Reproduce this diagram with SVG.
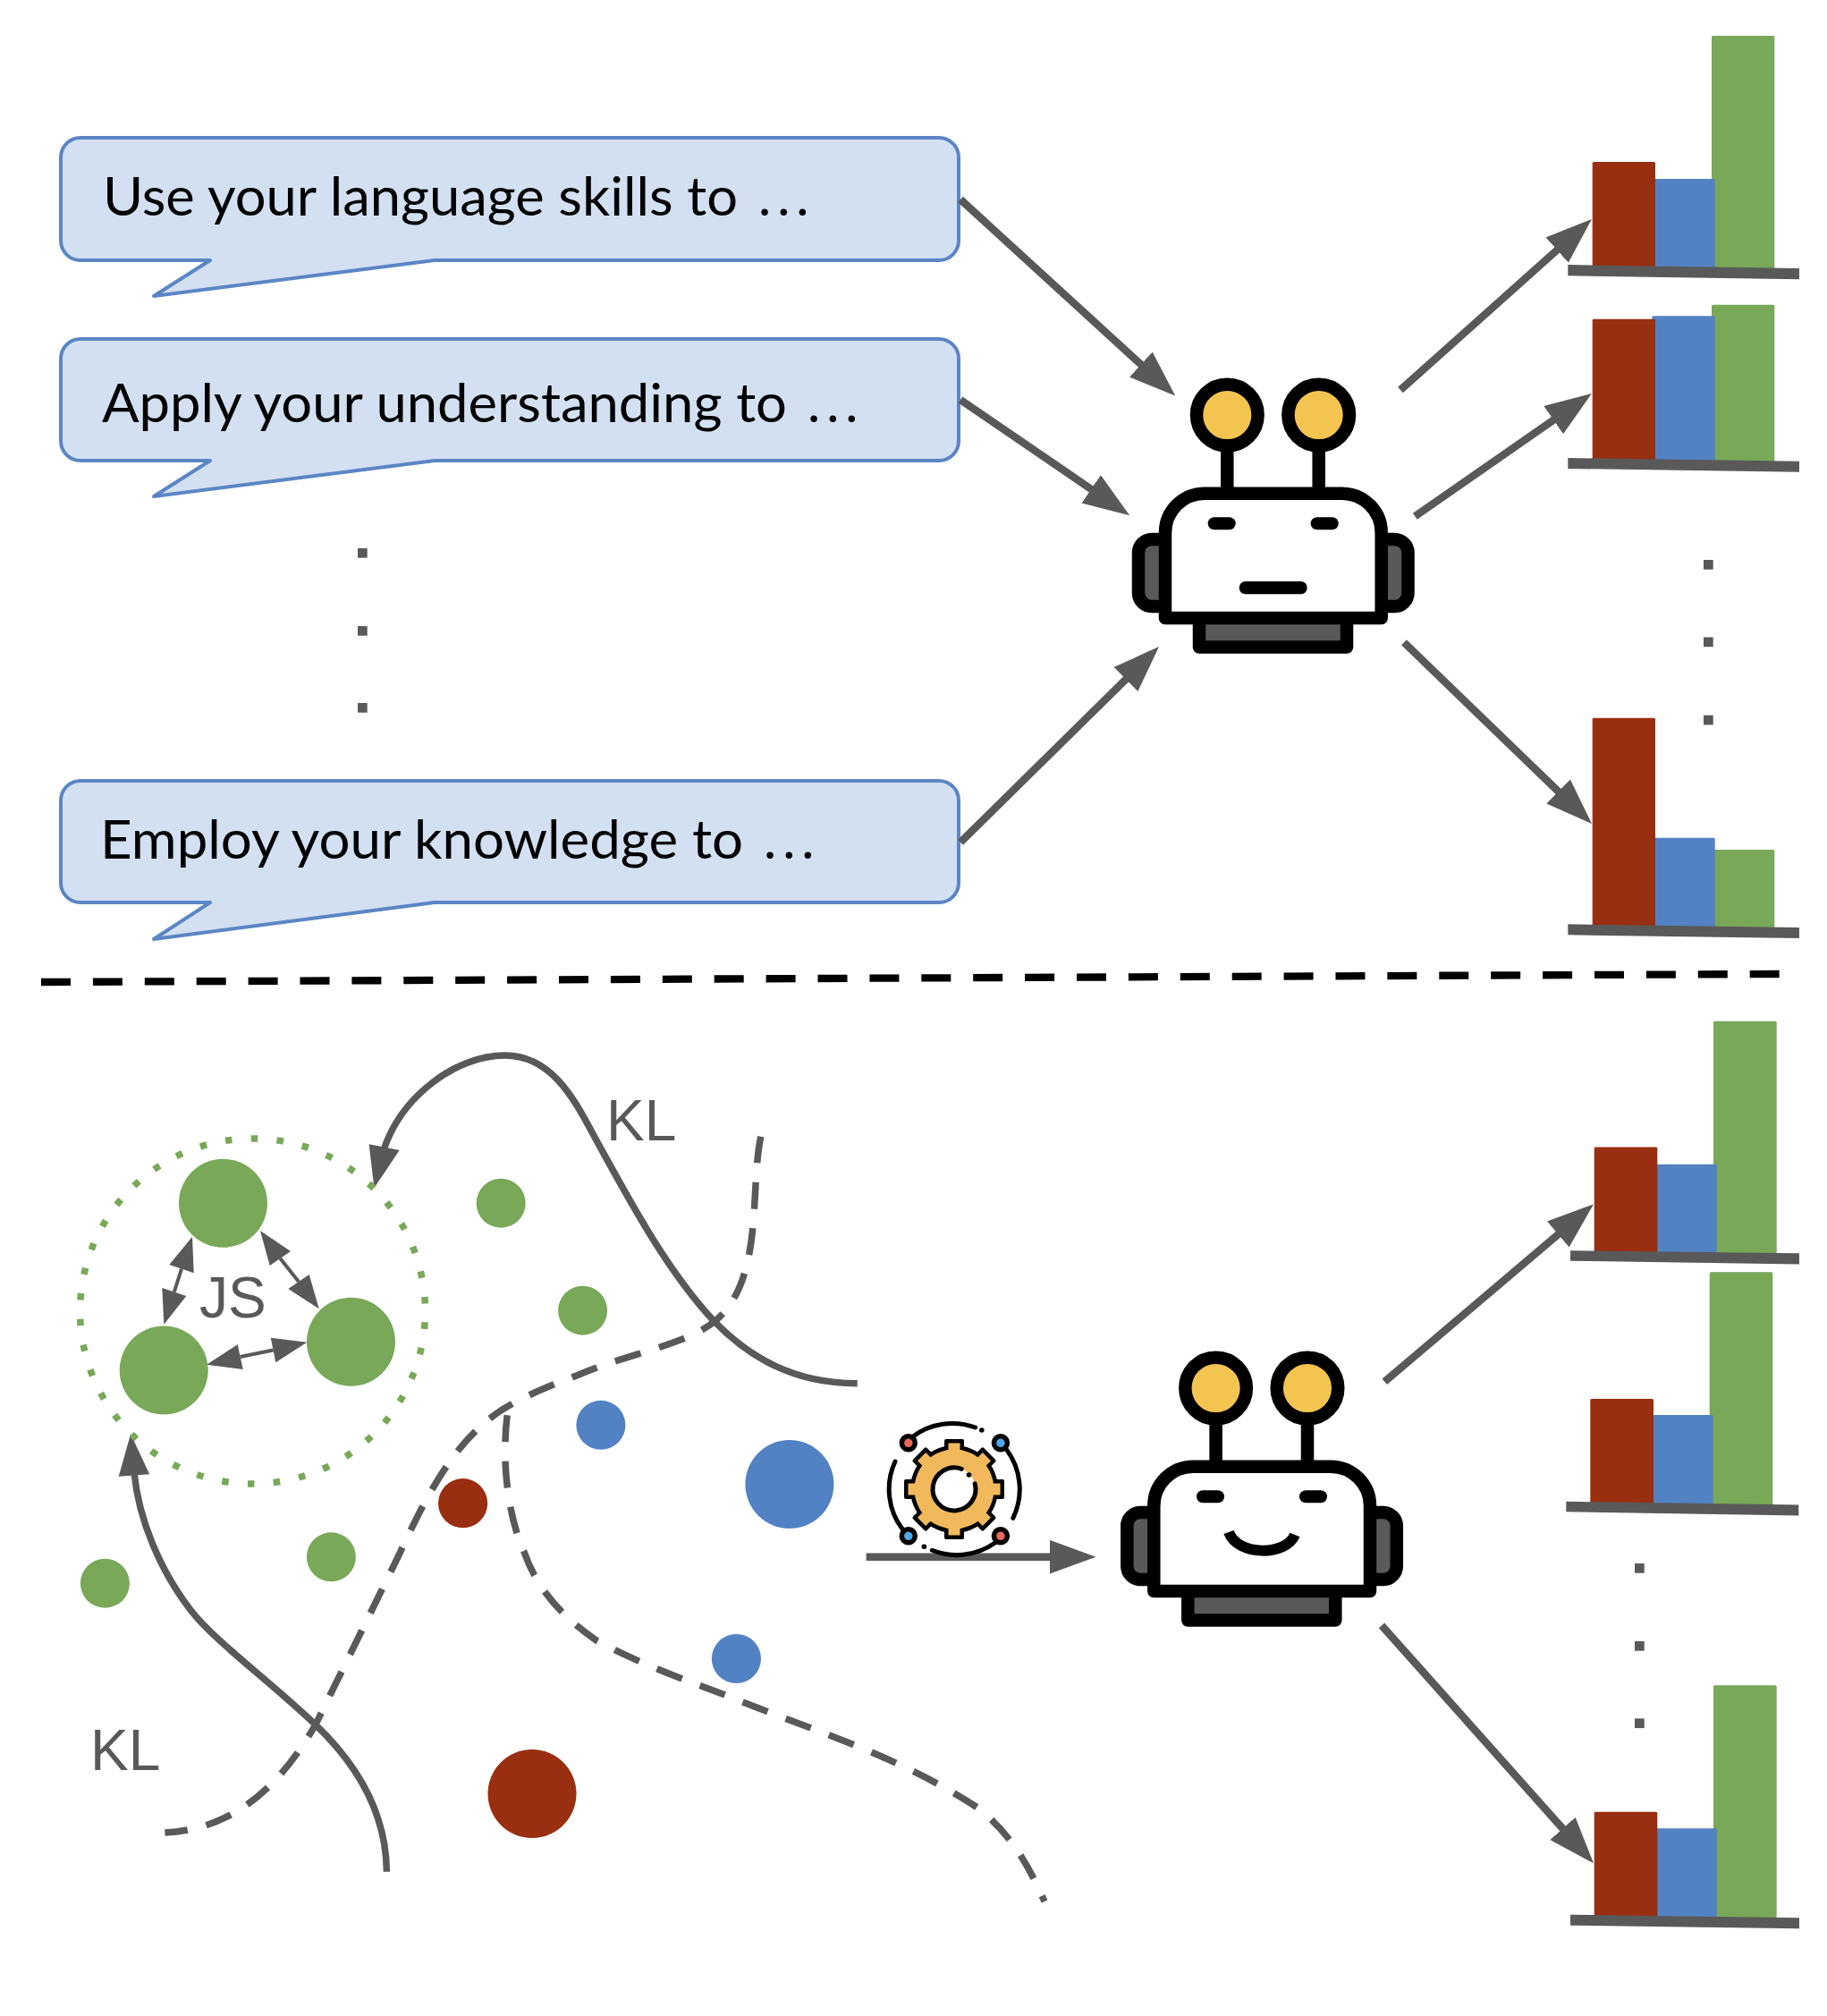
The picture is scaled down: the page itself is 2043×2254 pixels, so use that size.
<svg xmlns="http://www.w3.org/2000/svg" width="2043" height="2254" viewBox="0 0 2043 2254">
<style>
.bubble{fill:#d3e0f2;stroke:#5b86c5;stroke-width:4;stroke-linejoin:round}
.btext{font-family:Lato,"Liberation Sans",sans-serif;font-size:60px;fill:#000}
.ell{letter-spacing:7px}
.lbl{font-family:"Liberation Sans",Arial,sans-serif;font-size:64px;fill:#595959}
.red{fill:#992e10}.blue{fill:#5382c4}.green{fill:#78a858}.grey{fill:#595959}
.axis{fill:#595959}
.conn{fill:none;stroke:#595959;stroke-width:8.5}
.curve{fill:none;stroke:#595959;stroke-width:7.5}
.dash{fill:none;stroke:#595959;stroke-width:7.5;stroke-dasharray:30 21.5}
.thin{fill:none;stroke:#595959;stroke-width:4}
.k{fill:none;stroke:#000;stroke-width:14.5;stroke-linejoin:round}
.gk{fill:none;stroke:#000;stroke-width:5;stroke-linecap:round}
</style>
<defs>
<marker id="head" markerUnits="userSpaceOnUse" markerWidth="54" markerHeight="40" refX="1" refY="19" orient="auto"><path d="M0 0L52 19L0 38Z" fill="#595959"/></marker>
<g id="robot">
<circle class="k" cx="1372.3" cy="464" r="34.3" style="fill:#f4c451"/>
<circle class="k" cx="1474.7" cy="464" r="34.3" style="fill:#f4c451"/>
<path class="k" d="M1372.3 498V552M1474.7 498V552"/>
<path class="k" d="M1300 603H1288A15 15 0 0 0 1273 618V663A15 15 0 0 0 1288 678H1300" style="fill:#595959"/>
<path class="k" d="M1547 603H1559.5A15 15 0 0 1 1574.5 618V663A15 15 0 0 1 1559.5 678H1547" style="fill:#595959"/>
<path class="k" d="M1341 695V723.5H1506V695" style="fill:#595959"/>
<path class="k" d="M1303 691V596A44 44 0 0 1 1347 551.7H1500.7A44 44 0 0 1 1544.7 596V691Z" style="fill:#fff"/>
<rect x="1350.7" y="578.3" width="31" height="14" rx="7" fill="#000"/>
<rect x="1465.7" y="578.3" width="31" height="14" rx="7" fill="#000"/>
</g>
<g id="tooth-k"><rect x="-11" y="-56" width="22" height="22" rx="2" fill="#000"/></g>
<g id="tooth-o"><rect x="-6.5" y="-51.5" width="13" height="22" fill="#f2b95c"/></g>
</defs>
<rect width="2043" height="2254" fill="#fff"/>

<g id="bubble-1">
<path class="bubble" d="M90 154H1050A22 22 0 0 1 1072 176V269A22 22 0 0 1 1050 291H486L172 331L235 291H90A22 22 0 0 1 68 269V176A22 22 0 0 1 90 154Z"/>
<text class="btext" y="241"><tspan x="115" textLength="710" lengthAdjust="spacingAndGlyphs">Use your language skills to</tspan> <tspan x="848" class="ell">...</tspan></text>
</g>
<g id="bubble-2">
<path class="bubble" d="M90 379H1050A22 22 0 0 1 1072 401V493A22 22 0 0 1 1050 515H486L172 555L235 515H90A22 22 0 0 1 68 493V401A22 22 0 0 1 90 379Z"/>
<text class="btext" y="472"><tspan x="114" textLength="766" lengthAdjust="spacingAndGlyphs">Apply your understanding to</tspan> <tspan x="903" class="ell">...</tspan></text>
</g>
<g id="bubble-3">
<path class="bubble" d="M90 873H1050A22 22 0 0 1 1072 895V987A22 22 0 0 1 1050 1009H486L172 1050L235 1009H90A22 22 0 0 1 68 987V895A22 22 0 0 1 90 873Z"/>
<text class="btext" y="960"><tspan x="112" textLength="719" lengthAdjust="spacingAndGlyphs">Employ your knowledge to</tspan> <tspan x="854" class="ell">...</tspan></text>
</g>
<g id="dots-left" class="grey"><rect x="400" y="613" width="10.7" height="10.7"/><rect x="400" y="700" width="10.7" height="10.7"/><rect x="400" y="786" width="10.7" height="10.7"/></g>

<g id="connectors">
<path class="conn" d="M1074 223L1276.6 408.2" marker-end="url(#head)"/>
<path class="conn" d="M1074 447L1221 547.4" marker-end="url(#head)"/>
<path class="conn" d="M1074 941.7L1259.7 758.8" marker-end="url(#head)"/>
<path class="conn" d="M1566 436L1741.9 278.9" marker-end="url(#head)"/>
<path class="conn" d="M1582.3 577.3L1738 469" marker-end="url(#head)"/>
<path class="conn" d="M1570 718.3L1743.3 885.6" marker-end="url(#head)"/>
<path class="conn" d="M1548.3 1544.8L1743.1 1379.4" marker-end="url(#head)"/>
<path class="conn" d="M1545 1817.3L1748.1 2045.2" marker-end="url(#head)"/>
<path class="conn" d="M968.6 1740.7L1174.5 1740.7" marker-end="url(#head)"/>
<path id="separator" d="M46 1098L1990 1089" fill="none" stroke="#000" stroke-width="8.3" stroke-dasharray="33 24.9"/>
<path class="curve" d="M958.7 1546.7C885 1547 835 1515 798 1476.7C745 1420 700 1335 667.9 1276.7C645 1235 620 1180 564.6 1180C510 1180 450 1225 429.6 1284"/>
<path class="grey" d="M418.4 1328.3L412.6 1279.3L446.7 1286Z"/>
<path class="curve" d="M432.4 2092.7C432 2040 412 1985 352.8 1928.3C300 1878 240 1835 213 1800C180 1757 155 1700 150 1646"/>
<path class="grey" d="M146.1 1603.3L132.7 1650.7L167.2 1648.3Z"/>
<path class="dash" d="M850.8 1270.7C838 1330 855 1430 800 1476.7C770 1502 710 1512 656.4 1533.3C625 1546 590 1558 560.7 1576.7C510 1610 480 1665 444.6 1741.7L352.8 1928.3C320 1985 270 2045 184.4 2049"/>
<path class="dash" d="M567.2 1582.2C560 1640 570 1700 585.6 1734C600 1775 625 1805 668 1834.8C715 1860 770 1880 810.6 1894.9C900 1932 1000 1960 1093 2021C1130 2050 1150 2085 1168 2126"/>
<path class="thin" d="M203 1418.7L194.8 1444.5M313.3 1407L334 1433M268.7 1517L305.5 1509.5"/>
<path class="grey" d="M215 1382.7L189.3 1414L216.7 1423.3ZM183.3 1480.7L181.3 1440L208.3 1449ZM291 1376L325 1399L301.7 1415ZM356.7 1463.3L345.7 1425L322.3 1441ZM231 1525.7L265.7 1503.3L271.7 1531ZM343.3 1500.7L302.7 1495.7L308.3 1523.3Z"/>
</g>

<g id="cluster">
<circle cx="282.5" cy="1466" r="193" fill="none" stroke="#78a858" stroke-width="7.5" stroke-dasharray="7.5 21.37" stroke-dashoffset="-12.4"/>
<circle class="green" cx="249.5" cy="1345.3" r="49.5"/>
<circle class="green" cx="183.2" cy="1532" r="49.5"/>
<circle class="green" cx="392.5" cy="1500.3" r="49.5"/>
<text class="lbl" x="223" y="1473.3">JS</text>
</g>
<g id="points">
<circle class="green" cx="560.2" cy="1345.2" r="27.5"/>
<circle class="green" cx="651.6" cy="1465.2" r="27.5"/>
<circle class="blue" cx="671.9" cy="1593.3" r="27.5"/>
<circle class="blue" cx="882.9" cy="1659.5" r="49.5"/>
<circle class="red" cx="517.6" cy="1680.7" r="27.6"/>
<circle class="blue" cx="823.4" cy="1854.5" r="27.6"/>
<circle class="red" cx="595" cy="2005.5" r="49.5"/>
<circle class="green" cx="117.4" cy="1770.2" r="27.5"/>
<circle class="green" cx="370.4" cy="1740.8" r="27.5"/>
</g>
<text id="kl-1" class="lbl" x="678" y="1275">KL</text>
<text id="kl-2" class="lbl" x="101" y="1979">KL</text>

<g id="robot-1"><use href="#robot"/><rect x="1385.7" y="650" width="76" height="14.3" rx="7" fill="#000"/></g>
<g id="robot-2"><use href="#robot" transform="translate(-12.7 1088)"/><path d="M1374 1713C1384 1740 1438 1740 1448 1716" fill="none" stroke="#000" stroke-width="12"/></g>

<g id="gear">
<g transform="translate(1067 1665)">
<circle r="49" fill="#000"/>
<use href="#tooth-k"/><use href="#tooth-k" transform="rotate(45)"/><use href="#tooth-k" transform="rotate(90)"/><use href="#tooth-k" transform="rotate(135)"/><use href="#tooth-k" transform="rotate(180)"/><use href="#tooth-k" transform="rotate(225)"/><use href="#tooth-k" transform="rotate(270)"/><use href="#tooth-k" transform="rotate(315)"/>
<circle r="44.5" fill="#f2b95c"/>
<use href="#tooth-o"/><use href="#tooth-o" transform="rotate(45)"/><use href="#tooth-o" transform="rotate(90)"/><use href="#tooth-o" transform="rotate(135)"/><use href="#tooth-o" transform="rotate(180)"/><use href="#tooth-o" transform="rotate(225)"/><use href="#tooth-o" transform="rotate(270)"/><use href="#tooth-o" transform="rotate(315)"/>
<circle r="24" fill="#fff"/>
</g>
<path class="gk" d="M1075.2 1642.4A24 24 0 1 0 1090.2 1658.8"/>
<circle cx="1083.5" cy="1649" r="2.8" fill="#000"/>
<path class="gk" d="M1020 1606.7A74 74 0 0 1 1090.7 1596M1125 1620A74 74 0 0 1 1132.8 1697.3M1112.6 1725A74 74 0 0 1 1042.3 1733.3M1009.4 1710A74 74 0 0 1 1001 1634"/>
<circle cx="1097.8" cy="1599" r="2.8" fill="#000"/><circle cx="1033.4" cy="1729.3" r="2.8" fill="#000"/>
<g stroke="#000" stroke-width="5.5">
<circle cx="1015.8" cy="1613.3" r="7.5" fill="#e8685c"/><circle cx="1118.9" cy="1613.3" r="7.5" fill="#4fa8e8"/>
<circle cx="1015.8" cy="1717.3" r="7.5" fill="#4fa8e8"/><circle cx="1118.9" cy="1717.3" r="7.5" fill="#e8685c"/>
</g>
</g>

<g id="chart-1"><rect class="green" x="1914" y="40" width="70.3" height="262" rx="1.5"/><rect class="blue" x="1847.3" y="200" width="70.4" height="102" rx="1.5"/><rect class="red" x="1780.7" y="181" width="70.3" height="120" rx="1.5"/><path class="axis" d="M1753.3 296L2012 300V312.3L1753.3 308.3Z"/></g>
<g id="chart-2"><rect class="green" x="1914" y="340.7" width="70.3" height="178" rx="1.5"/><rect class="blue" x="1847.3" y="353.3" width="70.4" height="165" rx="1.5"/><rect class="red" x="1780.7" y="356.7" width="70.3" height="161" rx="1.5"/><path class="axis" d="M1753.3 512L2012 515.7V527.7L1753.3 524Z"/></g>
<g id="chart-3"><rect class="green" x="1914" y="950" width="70.3" height="90" rx="1.5"/><rect class="blue" x="1847.3" y="936.7" width="70.4" height="103" rx="1.5"/><rect class="red" x="1780.7" y="802.7" width="70.3" height="236" rx="1.5"/><path class="axis" d="M1753.3 1033.3L2012 1037V1049L1753.3 1045.3Z"/></g>
<g id="chart-4"><rect class="green" x="1916" y="1141.8" width="70.7" height="264" rx="1.5"/><rect class="blue" x="1849.3" y="1301.8" width="70.7" height="104" rx="1.5"/><rect class="red" x="1782.7" y="1282.6" width="70.6" height="122" rx="1.5"/><path class="axis" d="M1756 1398.2L2012 1401.3V1413.5L1756 1409.7Z"/></g>
<g id="chart-5"><rect class="green" x="1911.7" y="1422.3" width="70.6" height="264" rx="1.5"/><rect class="blue" x="1845" y="1582" width="70.7" height="104" rx="1.5"/><rect class="red" x="1778.3" y="1564" width="70.7" height="122" rx="1.5"/><path class="axis" d="M1751.3 1678.7L2011.3 1682.6V1694.4L1751.3 1690.2Z"/></g>
<g id="chart-6"><rect class="green" x="1916" y="1884.3" width="70.7" height="264" rx="1.5"/><rect class="blue" x="1849.3" y="2044.3" width="70.7" height="104" rx="1.5"/><rect class="red" x="1782.7" y="2025.7" width="70.6" height="122" rx="1.5"/><path class="axis" d="M1756 2140.7L2012 2144.3V2156.3L1756 2152.7Z"/></g>
<g id="dots-right-top" class="grey"><rect x="1905" y="626" width="10.7" height="10.7"/><rect x="1905" y="712.5" width="10.7" height="10.7"/><rect x="1905" y="799.7" width="10.7" height="10.7"/></g>
<g id="dots-right-bottom" class="grey"><rect x="1828" y="1748" width="10.7" height="10.7"/><rect x="1828" y="1835" width="10.7" height="10.7"/><rect x="1828" y="1921.4" width="10.7" height="10.7"/></g>
</svg>
